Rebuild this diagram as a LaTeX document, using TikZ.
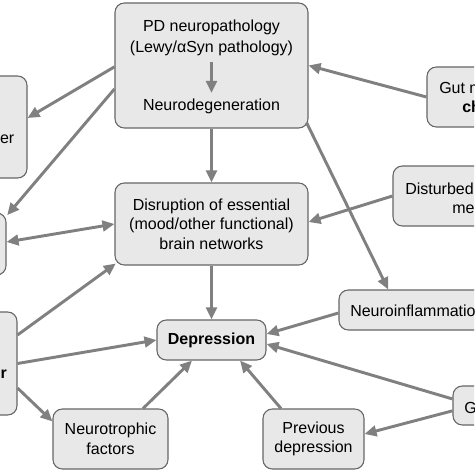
\documentclass[tikz,border=0pt]{standalone}
\usepackage{fontspec}
\setmainfont{Liberation Sans}
\usetikzlibrary{arrows.meta}
\definecolor{boxfill}{HTML}{E8E8E8}
\definecolor{boxline}{HTML}{666666}
\definecolor{arrgray}{HTML}{808080}
\begin{document}
\begin{tikzpicture}[x=0.75pt, y=-0.75pt,
box/.style={draw=boxline, fill=boxfill, rounded corners=7pt, line width=0.8pt,
  align=center, font=\fontsize{12}{14.6}\selectfont},
txt/.style={inner sep=0pt, font=\fontsize{12}{14.6}\selectfont},
arr/.style={-{Triangle[length=9pt,width=8pt]}, draw=arrgray, line width=2.2pt}]
\useasboundingbox (0,0) rectangle (474,474);
\clip (0,0) rectangle (474,474);
% boxes
\node[box, minimum width=144.75pt, minimum height=93.75pt] (pd) at (211.5,65.5) {};
\node[txt, align=center, font=\fontsize{12}{16}\selectfont] (pdtxt) at (211.5,38) {PD neuropathology\\(Lewy/αSyn pathology)};
\node[txt] (neuro) at (211.5,106) {Neurodegeneration};
\node[box, minimum width=144.75pt, minimum height=61.5pt] (disr) at (211.5,224)
  {Disruption of essential\\(mood/other functional)\\brain networks};
\node[box, minimum width=81.75pt, minimum height=30pt] (depr) at (211.5,340) {\textbf{Depression}};
\node[box, minimum width=86.25pt, minimum height=45pt] (trophic) at (110.5,439) {Neurotrophic\\factors};
\node[box, minimum width=75.75pt, minimum height=45pt] (prev) at (313.5,439) {Previous\\depression};
\node[box, minimum width=165.75pt, minimum height=30pt] (inflam) at (449.5,310) {};
\node[box, minimum width=99.75pt, minimum height=45pt] (gut) at (493.5,97) {};
\node[box, minimum width=125.25pt, minimum height=45pt] (disturb) at (476.5,196) {};
\node[box, minimum width=80.25pt, minimum height=29.25pt] (gen) at (506.5,405.5) {};
\node[box, minimum width=80.25pt, minimum height=76.5pt] (ltop) at (-26.5,127) {};
\node[box, minimum width=79.5pt, minimum height=46.5pt] (lmid) at (-47,244) {};
\node[box, minimum width=87.75pt, minimum height=77.25pt] (llow) at (-41.5,363.5) {};
% text of the cut boxes
\node[txt, anchor=base east] (ltoptxt) at (14.5,143) {er};
\node[txt, anchor=base east] (llowtxt) at (7,378) {\textbf{r}};
\node[txt, anchor=base west] (guttxt) at (439,94) {Gut m};
\node[txt, anchor=base west] (guttxtb) at (462,113) {\textbf{ch}};
\node[txt, anchor=base west] (disturbtxt) at (405,194) {Disturbed};
\node[txt, anchor=base west] (disturbtxtb) at (452,213) {me};
\node[txt, anchor=base west] (inflamtxt) at (350,316) {Neuroinflammatio};
\node[txt, anchor=base west] (gentxt) at (464,413) {G};
% arrows
\draw[arr] ([yshift=-4pt]pdtxt.south) -- ([yshift=4pt]neuro.north);
\draw[arr] ([yshift=-1pt]pd.west) -- ([yshift=6.75pt]ltop.east);
\draw[arr] ([yshift=-17.6pt]pd.west) -- ([shift={(0.5pt,-2pt)}]lmid.north east);
\draw[arr] (pd.south) -- (disr.north);
\draw[arr] (gut.west) -- (pd.east);
\draw[arr] (disturb.west) -- ([yshift=1.5pt]disr.east);
\draw[arr] ([shift={(-1.5pt,4.5pt)}]pd.south east) -- ([xshift=-46pt]inflam.north);
\draw[arr, {Triangle[length=9pt,width=8pt]}-{Triangle[length=9pt,width=8pt]}] ([yshift=1.5pt]lmid.east) -- (disr.west);
\draw[arr] ([yshift=21.4pt]llow.east) -- ([shift={(1pt,1.5pt)}]disr.south west);
\draw[arr] (llow.east) -- (depr.west);
\draw[arr] ([yshift=-18.4pt]llow.east) -- ([yshift=-9.75pt]trophic.north west);
\draw[arr] ([xshift=24.4pt]trophic.north) -- ([xshift=-14.6pt]depr.south);
\draw[arr] (disr.south) -- (depr.north);
\draw[arr] ([yshift=-2.25pt]inflam.west) -- ([yshift=4.5pt]depr.east);
\draw[arr] ([yshift=4.9pt]gen.west) -- ([yshift=-3pt]depr.east);
\draw[arr] ([yshift=-4pt]gen.west) -- ([yshift=3.75pt]prev.east);
\draw[arr] ([xshift=-24.4pt]prev.north) -- ([xshift=21.4pt]depr.south);
\end{tikzpicture}
\end{document}
